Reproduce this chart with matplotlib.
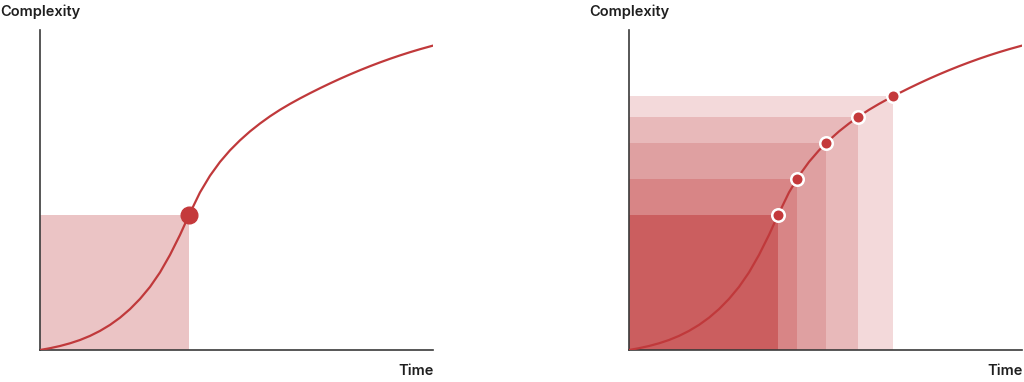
import matplotlib
matplotlib.use("Agg")
import matplotlib.pyplot as plt
from matplotlib.patches import Rectangle

# Curve (time, complexity)
time = [0, 10, 20, 30, 40, 50, 60, 70, 80, 90, 100, 110, 120, 130, 140, 149,
        160, 170, 180, 190, 200, 210, 220, 230, 240, 250, 260, 270, 280, 290,
        300, 310, 320, 330, 340, 350, 360, 370, 380, 393]
complexity = [0, 1.8, 4.0, 6.7, 10.0, 14.1, 19.1, 25.1, 32.3, 40.9, 51.1, 63.1, 77.6, 95.1,
              115.1, 134.9, 157.6, 174.3, 188.1, 199.7, 209.7, 218.6, 226.5, 233.7, 240.2,
              246.1, 251.6, 256.8, 261.8, 266.6, 271.2, 275.6, 279.8, 283.8, 287.6, 291.2,
              294.6, 297.8, 300.8, 304.4]

# Left panel: single point
left_point_t = [149]
left_point_c = [135]

# Right panel: successive points
right_points_t = [149, 168, 197, 229, 264]
right_points_c = [135, 171, 207, 233, 254]
right_rect_colors = ["#cb5e5f", "#d88586", "#dfa0a1", "#e8b9ba", "#f3d9da"]

line_color = "#c0393b"
axis_color = "#3a3a3a"
text_color = "#1f1f1f"

fig = plt.figure(figsize=(10.24, 3.82), dpi=100)
W, H = 1024, 382

def make_ax(x0):
    ax = fig.add_axes([x0 / W, (H - 350) / H, 393 / W, 320 / H])
    ax.set_xlim(0, 393)
    ax.set_ylim(0, 320)
    for s in ["top", "right"]:
        ax.spines[s].set_visible(False)
    for s in ["left", "bottom"]:
        ax.spines[s].set_color(axis_color)
        ax.spines[s].set_linewidth(1.2)
    ax.set_xticks([])
    ax.set_yticks([])
    ax.patch.set_alpha(0)
    return ax

font = dict(family=["Inter", "DejaVu Sans"], fontsize=10.5, fontweight="semibold", color=text_color)

# Left panel
ax1 = make_ax(40)
ax1.add_patch(Rectangle((0, 0), left_point_t[0], left_point_c[0], facecolor="#ebc4c5",
                        edgecolor="none", zorder=1))
ax1.plot(time, complexity, color=line_color, lw=1.6, zorder=3, solid_capstyle="round",
         solid_joinstyle="round")
ax1.plot(left_point_t, left_point_c, "o", ms=12, color="#c4393b", mec="#c4393b", zorder=4)
fig.text(0 / W, 1 - 12 / H, "Complexity", ha="left", va="center", **font)
fig.text(434 / W, 1 - 371 / H, "Time", ha="right", va="center", **font)

# Right panel
ax2 = make_ax(629)
order = list(range(len(right_points_t)))[::-1]
for i in order:
    ax2.add_patch(Rectangle((0, 0), right_points_t[i], right_points_c[i],
                            facecolor=right_rect_colors[i], edgecolor="none", zorder=1))
ax2.plot(time, complexity, color=line_color, lw=1.6, zorder=3, solid_capstyle="round",
         solid_joinstyle="round")
ax2.plot(right_points_t, right_points_c, "o", ms=9, color="#c4393b", mec="white",
         mew=1.8, zorder=4, linestyle="none")
fig.text(589 / W, 1 - 12 / H, "Complexity", ha="left", va="center", **font)
fig.text(1023 / W, 1 - 371 / H, "Time", ha="right", va="center", **font)

fig.savefig("out.png", dpi=100)
